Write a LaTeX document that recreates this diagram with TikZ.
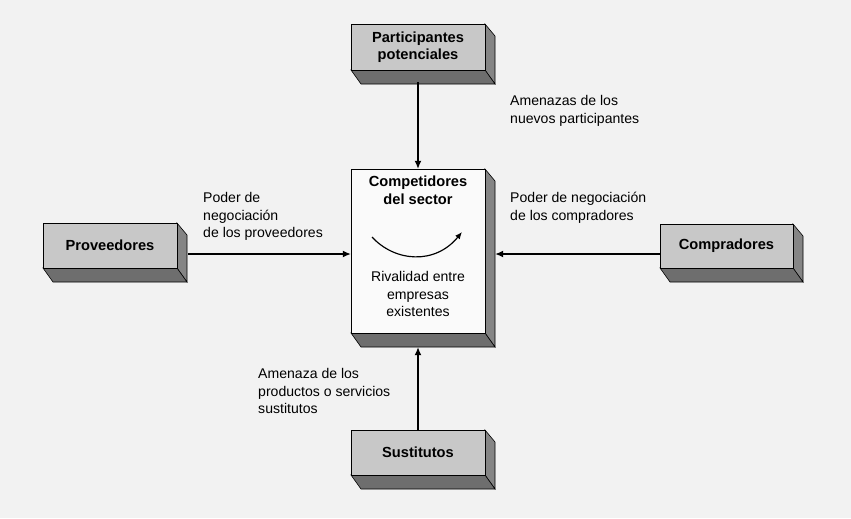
\documentclass[tikz,border=0pt]{standalone}
\usepackage{fontspec}
\setmainfont{Liberation Sans}
\usetikzlibrary{arrows.meta}
\definecolor{bg}{HTML}{F2F2F2}
\definecolor{frontgray}{HTML}{C8C8C8}
\definecolor{sidegray}{HTML}{858585}
\definecolor{botgray}{HTML}{6E6E6E}
\tikzset{
  lbl/.style={font=\fontsize{12}{15}\selectfont, align=left, anchor=north west, inner sep=0},
  ttl/.style={font=\bfseries\fontsize{12.5}{15}\selectfont, align=center, inner sep=0},
  force/.style={line width=1.6pt, -{Latex[length=7pt,width=6pt]}},
}
\newcommand{\cube}[6]{% name, x1,y1,x2,y2, fill
  \fill[sidegray,draw=black,line width=0.5pt] (#4,#3) -- (#4+10,#3+12) -- (#4+10,#5+14) -- (#4,#5) -- cycle;
  \fill[botgray,draw=black,line width=0.5pt] (#2,#5) -- (#4,#5) -- (#4+10,#5+14) -- (#2+10,#5+14) -- cycle;
  \node[draw=black,line width=0.6pt,fill=#6,minimum width={(#4-#2)*0.03cm},minimum height={(#5-#3)*0.03cm},anchor=north west,inner sep=0,outer sep=0] (#1) at (#2,#3) {};
}
\begin{document}
\begin{tikzpicture}[x=0.03cm,y=-0.03cm]
\fill[bg] (0,0) rectangle (851,518);
\useasboundingbox (0,0) rectangle (851,518);
\cube{part}{351}{24}{485}{70}{frontgray}
\cube{prov}{43}{223}{177}{268}{frontgray}
\cube{comp}{660}{224}{793}{268}{frontgray}
\cube{sust}{351}{430}{485}{475}{frontgray}
\cube{cent}{351}{169}{485}{333}{white!96!gray}
\node[ttl] at (part.center) {Participantes\\potenciales};
\node[ttl] at (prov.center) {Proveedores};
\node[ttl] at (comp.center) {Compradores};
\node[ttl] at (sust.center) {Sustitutos};
\node[ttl,anchor=north] at (418,176) {Competidores\\del sector};
\node[lbl,align=center,anchor=north] at (418,271) {Rivalidad entre\\empresas\\existentes};
\draw[line width=1pt,-{Latex[length=6pt,width=5pt]}] (372,237) .. controls (395,262) and (435,265) .. (462,232);
\coordinate (pb) at (418,82);
\coordinate (prs) at (188,254);
\coordinate (cls) at (660,254);
\coordinate (cr) at (495,254);
\coordinate (cb) at (418,347);
\draw[force] (pb) -- (cent.north);
\draw[force] (prs) -- (cent.west |- prs);
\draw[force] (cls) -- (cr);
\draw[force] (sust.north) -- (cb);
\node[lbl] at (510,95) {Amenazas de los\\nuevos participantes};
\node[lbl] at (203,192) {Poder de\\negociación\\de los proveedores};
\node[lbl] at (510,192) {Poder de negociación\\de los compradores};
\node[lbl] at (258,368) {Amenaza de los\\productos o servicios\\sustitutos};
\end{tikzpicture}
\end{document}
